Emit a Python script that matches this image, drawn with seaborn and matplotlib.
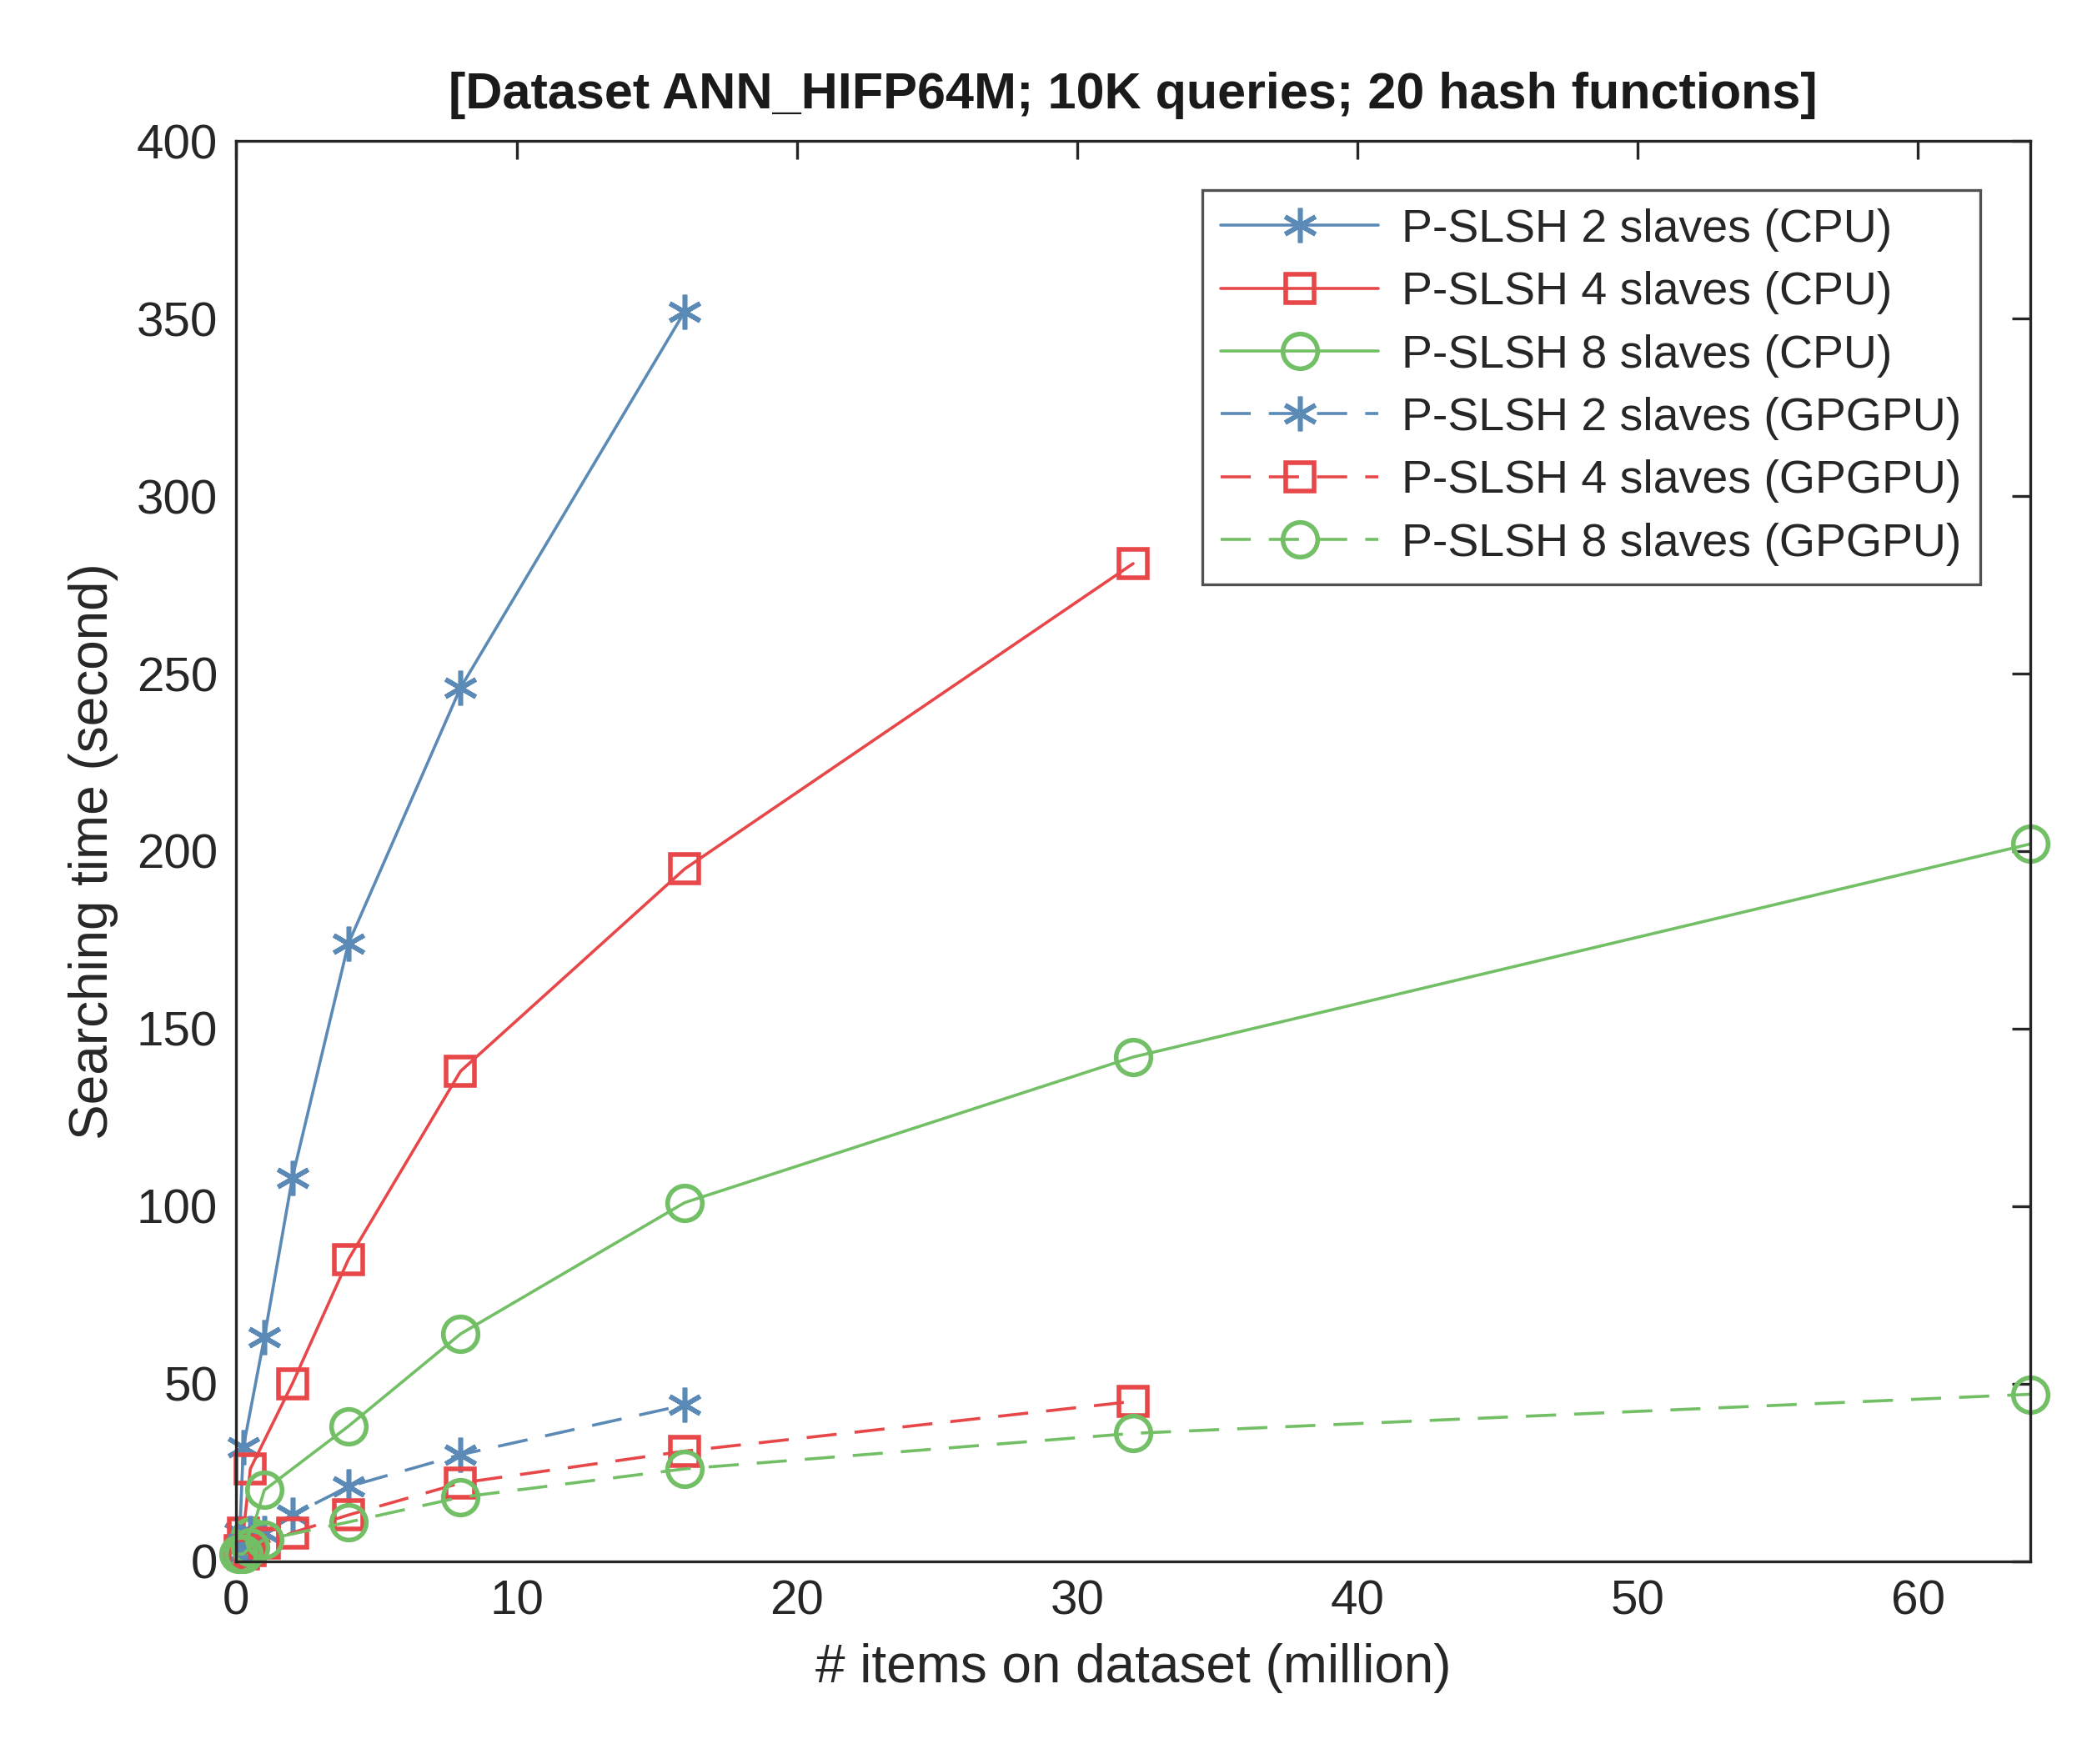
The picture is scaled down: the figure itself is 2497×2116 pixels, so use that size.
import numpy as np
import pandas as pd
import matplotlib
matplotlib.use('Agg')
import matplotlib.pyplot as plt
import seaborn as sns

## __DATA__________________________
x_cpu2 = [0.125, 0.25, 1, 2, 4, 8, 16]
y_cpu2 = [8, 32, 63, 108, 174, 246, 352]
x_cpu4 = [0.125, 0.25, 0.5, 2, 4, 8, 16, 32]
y_cpu4 = [3, 8, 26, 50, 85, 138, 195, 281]
x_cpu8 = [0.25, 0.5, 1, 4, 8, 16, 32, 64]
y_cpu8 = [4, 7, 20, 38, 64, 101, 142, 202]
x_gpu2 = [0.125, 0.25, 0.5, 1, 2, 4, 8, 16]
y_gpu2 = [2, 5, 8, 8, 13, 21, 30, 44]
x_gpu4 = [0.25, 0.5, 1, 2, 4, 8, 16, 32]
y_gpu4 = [2, 3, 5, 8, 13, 22, 31, 45]
x_gpu8 = [0.0625, 0.25, 0.5, 1, 4, 8, 16, 32, 64]
y_gpu8 = [2, 2, 4, 6, 11, 18, 26, 36, 47]

labels = ['P-SLSH 2 slaves (CPU)', 'P-SLSH 4 slaves (CPU)', 'P-SLSH 8 slaves (CPU)',
          'P-SLSH 2 slaves (GPGPU)', 'P-SLSH 4 slaves (GPGPU)', 'P-SLSH 8 slaves (GPGPU)']
series = [(x_cpu2, y_cpu2), (x_cpu4, y_cpu4), (x_cpu8, y_cpu8),
          (x_gpu2, y_gpu2), (x_gpu4, y_gpu4), (x_gpu8, y_gpu8)]
colors = ['#5A8AB5', '#E8474A', '#72BF66'] * 2
markers = [(6, 2, 0), 's', 'o'] * 2
msizes = [15, 12, 15] * 2
styles = ['-'] * 3 + [(0, (10, 6))] * 3

sns.set_style('white')
plt.rcParams['font.family'] = ['Arial', 'Liberation Sans', 'DejaVu Sans']

fig = plt.figure(figsize=(12.485, 10.58), dpi=200)
ax = fig.add_axes([0.1135, 0.115, 0.8615, 0.805])

for (xs, ys), lab, c, m, ms, ls in zip(series, labels, colors, markers, msizes, styles):
    df = pd.DataFrame({'x': xs, 'y': ys})
    sns.lineplot(data=df, x='x', y='y', ax=ax, color=c, linestyle=ls, linewidth=1.3,
                 marker=m, markersize=ms, markerfacecolor='none',
                 markeredgecolor=c, markeredgewidth=2.0, label=lab, sort=False, clip_on=False)

ax.set_xlim(0, 64)
ax.set_ylim(0, 400)
ax.set_xticks(range(0, 61, 10))
ax.set_yticks(range(0, 401, 50))
ax.tick_params(direction='in', length=8, width=1.2, labelsize=21, top=True, right=True,
               colors='#262626', pad=8)
for s in ax.spines.values():
    s.set_linewidth(1.2)
    s.set_color('#262626')
ax.set_xlabel('# items on dataset (million)', fontsize=23, color='#262626', labelpad=8)
ax.set_ylabel('Searching time (second)', fontsize=23, color='#262626', labelpad=8)
ax.set_title('[Dataset ANN_HIFP64M; 10K queries; 20 hash functions]', fontsize=22,
             fontweight='bold', color='#1a1a1a', pad=14)
leg = ax.legend(loc='upper right', fontsize=20, frameon=True, fancybox=False,
                edgecolor='#262626', handlelength=3.4, handletextpad=0.5,
                borderpad=0.4, labelspacing=0.42, bbox_to_anchor=(0.985, 0.982))
leg.get_frame().set_linewidth(1.2)

fig.savefig('out.png', dpi=200)
